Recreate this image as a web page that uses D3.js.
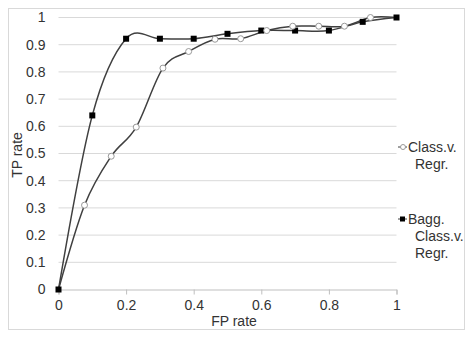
<!DOCTYPE html>
<html>
<head>
<meta charset="utf-8">
<script src="https://cdn.jsdelivr.net/npm/d3@7"></script>
<style>
  body { margin: 0; background: #fff; }
  text { font-family: "Liberation Sans", Arial, sans-serif; fill: #333; }
</style>
</head>
<body>
<div id="chart"></div>
<script>
// Class.v.Regr. (open circles)
const classFP = [0, 0.077, 0.156, 0.23, 0.309, 0.385, 0.463, 0.539, 0.616, 0.693, 0.770, 0.846, 0.923, 1];
const classTP = [0, 0.31, 0.49, 0.597, 0.814, 0.875, 0.92, 0.922, 0.952, 0.968, 0.968, 0.968, 1.0, 1.0];
// Bagg. Class.v.Regr. (filled squares)
const baggFP = [0, 0.1, 0.2, 0.3, 0.4, 0.5, 0.6, 0.7, 0.8, 0.9, 1];
const baggTP = [0, 0.64, 0.922, 0.922, 0.922, 0.94, 0.952, 0.952, 0.952, 0.984, 1.0];

const xTicks = [0, 0.2, 0.4, 0.6, 0.8, 1];
const yTicks = [0, 0.1, 0.2, 0.3, 0.4, 0.5, 0.6, 0.7, 0.8, 0.9, 1];

const width = 474, height = 339;
const fs = 14;
const svg = d3.select("#chart").append("svg")
    .attr("width", width)
    .attr("height", height);

// outer frame
svg.append("rect")
    .attr("x", 8.5).attr("y", 8.5)
    .attr("width", 456).attr("height", 321)
    .attr("fill", "#fff")
    .attr("stroke", "#d9d9d9");

const x = d3.scaleLinear().domain([0, 1]).range([58.5, 396.5]);
const y = d3.scaleLinear().domain([0, 1]).range([289.5, 17.5]);

// gridlines
svg.append("g")
  .selectAll("line")
  .data(yTicks.filter(d => d > 0))
  .join("line")
    .attr("x1", x(0)).attr("x2", x(1))
    .attr("y1", d => y(d)).attr("y2", d => y(d))
    .attr("stroke", "#d9d9d9");

// x axis
const xAxis = svg.append("g")
    .attr("transform", `translate(0,${y(0)})`)
    .call(d3.axisBottom(x).tickValues(xTicks).tickFormat(d3.format("")).tickSize(5).tickPadding(6));
xAxis.select(".domain").attr("stroke", "#bfbfbf");
xAxis.selectAll(".tick line").attr("stroke", "#bfbfbf");
xAxis.selectAll("text").attr("font-size", fs).attr("fill", "#333");

// y axis labels
const yAxis = svg.append("g")
    .attr("transform", `translate(${x(0)},0)`)
    .call(d3.axisLeft(y).tickValues(yTicks).tickFormat(d3.format("")).tickSize(0).tickPadding(13));
yAxis.select(".domain").remove();
yAxis.selectAll("text").attr("font-size", fs).attr("fill", "#333");

// axis titles
svg.append("text")
    .attr("x", 234).attr("y", 326)
    .attr("text-anchor", "middle")
    .attr("font-size", fs)
    .text("FP rate");

svg.append("text")
    .attr("transform", "translate(22,155) rotate(-90)")
    .attr("text-anchor", "middle")
    .attr("font-size", fs)
    .text("TP rate");

const line = d3.line()
    .x(d => x(d[0]))
    .y(d => y(d[1]))
    .curve(d3.curveCatmullRom.alpha(0));

const classData = classFP.map((d, i) => [d, classTP[i]]);
const baggData = baggFP.map((d, i) => [d, baggTP[i]]);

svg.append("path")
    .datum(classData)
    .attr("d", line)
    .attr("fill", "none")
    .attr("stroke", "#404040")
    .attr("stroke-width", 1.5);

svg.append("path")
    .datum(baggData)
    .attr("d", line)
    .attr("fill", "none")
    .attr("stroke", "#404040")
    .attr("stroke-width", 1.5);

// markers
svg.append("g")
  .selectAll("rect")
  .data(baggData)
  .join("rect")
    .attr("x", d => x(d[0]) - 3)
    .attr("y", d => y(d[1]) - 3)
    .attr("width", 6).attr("height", 6)
    .attr("fill", "#000");

svg.append("g")
  .selectAll("circle")
  .data(classData.slice(0, -1).filter(d => d[0] > 0))
  .join("circle")
    .attr("cx", d => x(d[0]))
    .attr("cy", d => y(d[1]))
    .attr("r", 3)
    .attr("fill", "#fff")
    .attr("stroke", "#999")
    .attr("stroke-width", 1);

// legend
const legend = svg.append("g");
legend.append("line")
    .attr("x1", 398).attr("x2", 407).attr("y1", 147).attr("y2", 147)
    .attr("stroke", "#404040").attr("stroke-width", 1);
legend.append("circle")
    .attr("cx", 403).attr("cy", 147).attr("r", 2.5)
    .attr("fill", "#fff").attr("stroke", "#999");
legend.append("text")
    .attr("x", 408).attr("y", 152)
    .attr("font-size", fs)
    .selectAll("tspan")
    .data(["Class.v.", "Regr."])
    .join("tspan")
      .attr("x", (d, i) => i ? 415 : 408)
      .attr("dy", (d, i) => i ? 17 : 0)
      .text(d => d);

legend.append("line")
    .attr("x1", 398).attr("x2", 407).attr("y1", 219).attr("y2", 219)
    .attr("stroke", "#404040").attr("stroke-width", 1);
legend.append("rect")
    .attr("x", 400).attr("y", 216.5).attr("width", 5).attr("height", 5)
    .attr("fill", "#000");
legend.append("text")
    .attr("x", 408).attr("y", 224)
    .attr("font-size", fs)
    .selectAll("tspan")
    .data(["Bagg.", "Class.v.", "Regr."])
    .join("tspan")
      .attr("x", (d, i) => i ? 415 : 408)
      .attr("dy", (d, i) => i ? 17 : 0)
      .text(d => d);
</script>
</body>
</html>
